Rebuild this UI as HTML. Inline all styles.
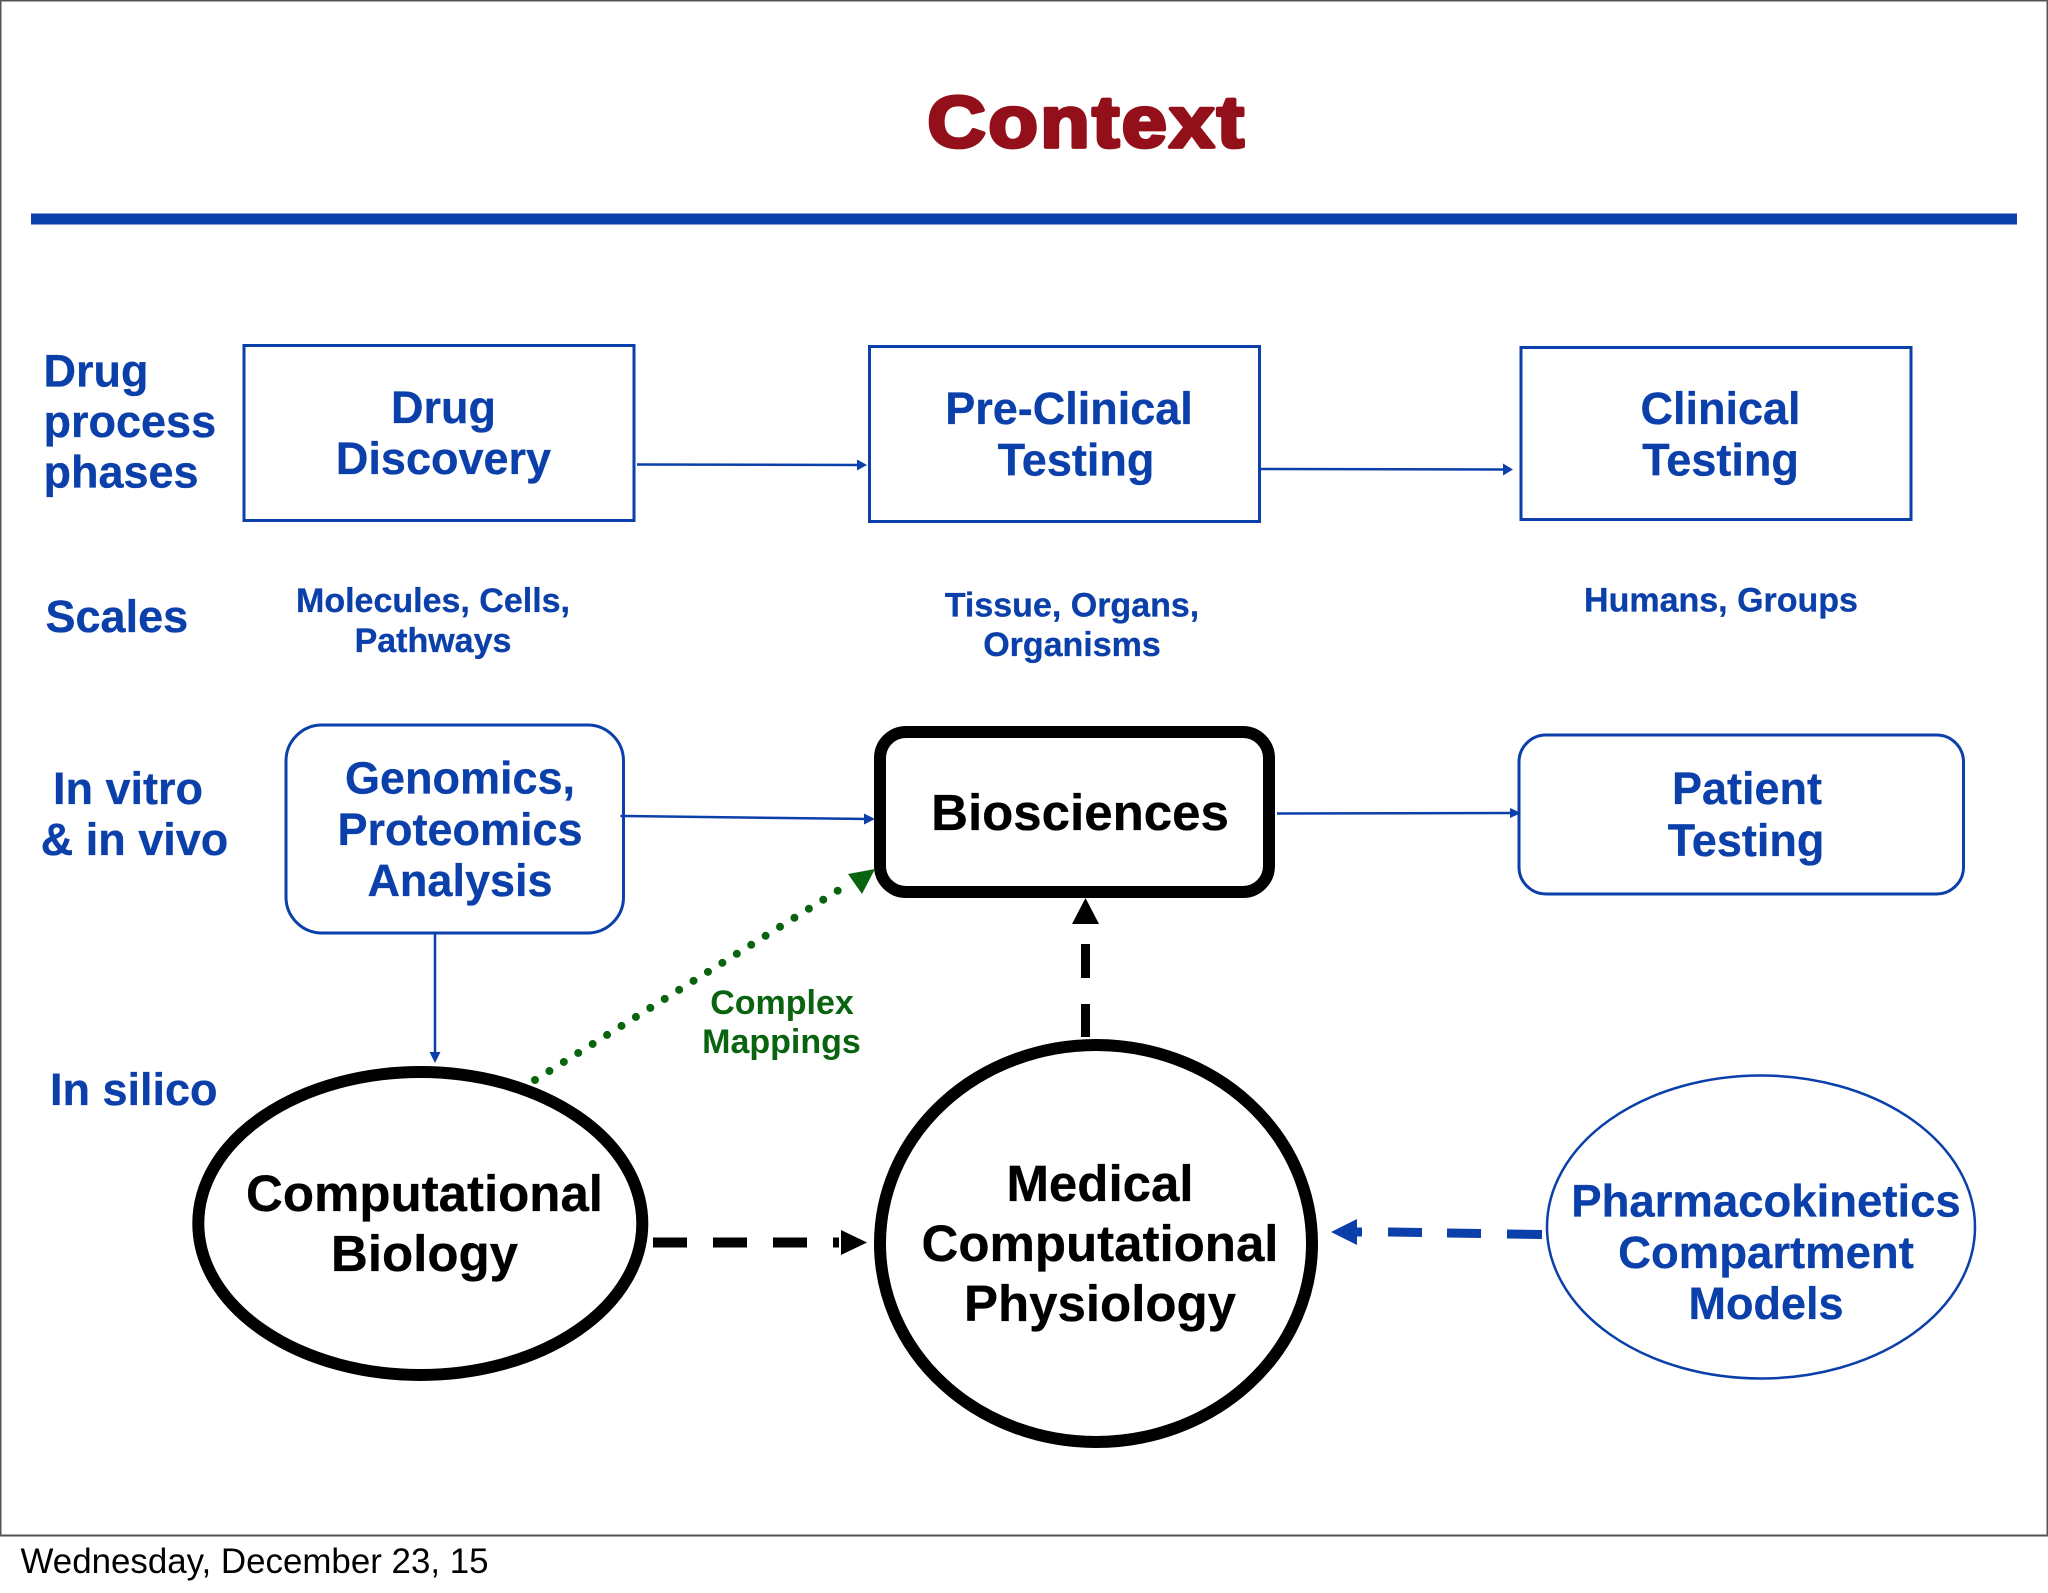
<!DOCTYPE html>
<html><head><meta charset="utf-8"><style>
html,body{margin:0;padding:0;background:#fff;width:2048px;height:1593px;overflow:hidden}
svg{display:block}
text{font-family:"Liberation Sans",Arial,sans-serif;font-weight:700}
.b{fill:#0b3fa9;stroke:#0b3fa9;stroke-width:.3}.k{fill:#000;stroke:#000;stroke-width:.3}.g{fill:#0a640f}
.s45{font-size:45px}.s34{font-size:34px}.s51{font-size:51px}
.m{text-anchor:middle}
</style></head><body>
<svg width="2048" height="1593" viewBox="0 0 2048 1593" xmlns="http://www.w3.org/2000/svg">
<rect width="2048" height="1593" fill="#fff"/>
<rect x="0.5" y="0.5" width="2047" height="1535" fill="none" stroke="#555" stroke-width="2"/>
<text transform="translate(1087,147) scale(1.12,1)" x="0" y="0" class="m" font-size="72" letter-spacing="2.4" fill="#93101a" stroke="#93101a" stroke-width="3.800" stroke-linejoin="round">Context</text>
<rect x="31" y="213.5" width="1986" height="11" fill="#0b3fa9"/>

<g fill="none" stroke="#0b3fa9" stroke-width="3">
<rect x="244" y="345.5" width="390" height="175"/>
<rect x="869.5" y="346.5" width="390" height="175"/>
<rect x="1521" y="347.5" width="390" height="172"/>
<rect x="286" y="725" width="337.500" height="208" rx="36"/>
<rect x="1519" y="735" width="444.500" height="159" rx="27"/>
<ellipse cx="1761" cy="1227" rx="214" ry="151.500" stroke-width="2.500"/>
<path d="M637 464.500L862 465M1260 469L1506 469.500M620.500 816L869 819M1277 813.500L1515 813M435 933V1056" stroke-width="2.500"/>
</g>
<g fill="#0b3fa9">
<path d="M867 465L857 459.500V470.500Z"/>
<path d="M1513 469.500L1503 463.500V475.500Z"/>
<path d="M875 819L864 813.500V824.500Z"/>
<path d="M1521 813L1510 808V818Z"/>
<path d="M435 1063L429.500 1052H440.500Z"/>
</g>

<rect x="880" y="732" width="389" height="160" rx="26" fill="none" stroke="#000" stroke-width="12"/>
<ellipse cx="420.300" cy="1223.500" rx="222" ry="151.500" fill="none" stroke="#000" stroke-width="12"/>
<ellipse cx="1096" cy="1243.500" rx="216" ry="198.500" fill="none" stroke="#000" stroke-width="12"/>

<!-- dashed black horizontal -->
<path d="M653 1242.500H687M713 1242.500H747M773 1242.500H807M833 1242.500H839" stroke="#000" stroke-width="10" fill="none"/>
<path d="M867 1242.500L841 1230V1255Z" fill="#000"/>
<!-- dashed black vertical -->
<path d="M1085.500 1037V1004M1085.500 978V944" stroke="#000" stroke-width="9" fill="none"/>
<path d="M1085.500 898L1072 924H1099Z" fill="#000"/>
<!-- dashed blue -->
<path d="M1542 1234.500L1507 1234M1481 1233.500L1447 1233M1422 1232.500L1388 1232M1362 1232L1355 1232" stroke="#0b3fa9" stroke-width="9" fill="none"/>
<path d="M1331 1232L1357 1219V1245Z" fill="#0b3fa9"/>
<!-- dotted green -->
<path d="M535 1080L850 883" stroke="#0a640f" stroke-width="8" stroke-linecap="round" stroke-dasharray="0 17" fill="none"/>
<path d="M875 869L848 874L862 894Z" fill="#0a640f"/>

<g class="b s45">
<text x="43.500" y="386.500">Drug</text>
<text x="43.500" y="437">process</text>
<text x="43.500" y="487.500">phases</text>
<text x="45.500" y="632">Scales</text>
<text x="128" y="804" class="m">In vitro</text>
<text x="134.500" y="855" class="m">&amp; in vivo</text>
<text x="50" y="1105">In silico</text>
<text x="443.500" y="423" class="m">Drug</text>
<text x="443.500" y="474" class="m">Discovery</text>
<text x="1069" y="424" class="m">Pre-Clinical</text>
<text x="1076" y="475.500" class="m">Testing</text>
<text x="1720.500" y="424" class="m">Clinical</text>
<text x="1720.500" y="475.500" class="m">Testing</text>
<text x="460" y="793.500" class="m">Genomics,</text>
<text x="460" y="845" class="m">Proteomics</text>
<text x="460" y="896" class="m">Analysis</text>
<text x="1747" y="804" class="m">Patient</text>
<text x="1746" y="856" class="m">Testing</text>
<text x="1766" y="1216.500" class="m" style="font-size:45.500px">Pharmacokinetics</text>
<text x="1766" y="1268" class="m" style="font-size:45.500px">Compartment</text>
<text x="1766" y="1319" class="m">Models</text>
</g>
<g class="b s34">
<text x="433" y="612" class="m">Molecules, Cells,</text>
<text x="433" y="652" class="m">Pathways</text>
<text x="1072" y="616.500" class="m">Tissue, Organs,</text>
<text x="1072" y="656" class="m">Organisms</text>
<text x="1721" y="611.500" class="m">Humans, Groups</text>
</g>
<g class="g s34">
<text x="782" y="1014" class="m">Complex</text>
<text x="781.500" y="1053" class="m">Mappings</text>
</g>
<g class="k s51">
<text x="424.500" y="1211" class="m">Computational</text>
<text x="424.500" y="1271" class="m">Biology</text>
<text x="1080" y="830" class="m">Biosciences</text>
<text x="1100" y="1201" class="m">Medical</text>
<text x="1100" y="1261" class="m">Computational</text>
<text x="1100" y="1321" class="m">Physiology</text>
</g>
<text x="20.500" y="1573" font-size="34.900" style="font-weight:400" fill="#000">Wednesday, December 23, 15</text>
</svg>
</body></html>
